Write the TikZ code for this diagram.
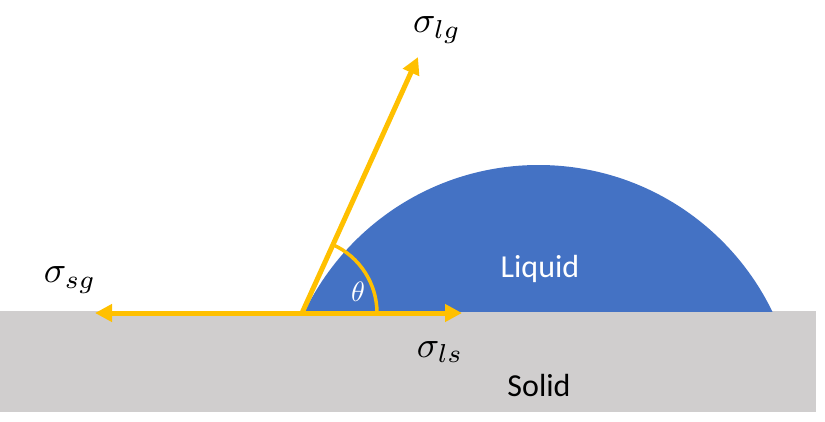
\RequirePackage{fix-cm}
\documentclass[tikz,border=0pt]{standalone}
\usepackage{fontspec}
\setmainfont{Carlito}
\usetikzlibrary{arrows.meta}
\definecolor{gold}{HTML}{FFC000}
\definecolor{drop}{HTML}{4472C4}
\definecolor{solidgray}{HTML}{D0CECE}
\newcommand{\mysym}[2]{\scalebox{#1}{$#2$}}
\tikzset{force/.style={draw=gold,line width=5pt,-{Triangle[length=17pt,width=17pt]}},
lbl/.style={font=\fontsize{32}{34}\selectfont}}
\begin{document}
\begin{tikzpicture}[x=1pt,y=-1pt]
\useasboundingbox (0,0) rectangle (825,421);
\fill[solidgray] (0,311) rectangle (816,412);
\begin{scope}
\clip (0,0) rectangle (825,311);
\fill[drop] (538.5,424.7) circle[radius=259.7];
\end{scope}
\coordinate (o) at (302,313);
\coordinate (u) at (418,57);
\draw[gold,line width=3.5pt] (377,313) arc[start angle=0,end angle=-65.6,radius=75];
\draw[force] (o) -- (95,313);
\draw[force] (o) -- (462,313);
\draw[force] (o) -- (u);
\node (slg) at (437,30) {\mysym{3.7}{\sigma_{lg}}};
\node (ssg) at (70,280) {\mysym{3.7}{\sigma_{sg}}};
\node (sls) at (440,352) {\mysym{3.7}{\sigma_{ls}}};
\node[white] (th) at (358,292) {\mysym{2.8}{\theta}};
\node[lbl,white] (liq) at (540,269) {Liquid};
\node[lbl] (sol) at (539,385) {Solid};
\end{tikzpicture}
\end{document}
